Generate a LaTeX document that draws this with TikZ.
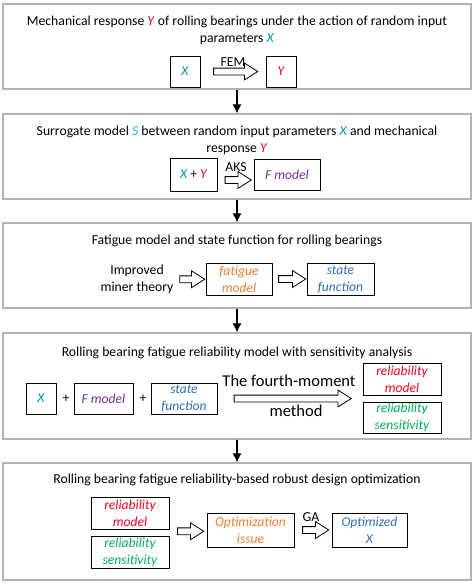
\documentclass[tikz,border=0pt]{standalone}
\usepackage{fontspec}
\setmainfont{Carlito}
\usetikzlibrary{shapes.arrows, arrows.meta, calc}

\definecolor{colX}{RGB}{0,150,150}
\definecolor{colY}{RGB}{240,0,30}
\definecolor{colS}{RGB}{0,190,240}
\definecolor{colF}{RGB}{112,48,160}
\definecolor{colO}{RGB}{237,125,49}
\definecolor{colB}{RGB}{46,110,180}
\definecolor{colR}{RGB}{240,0,30}
\definecolor{colG}{RGB}{0,176,80}

\newcommand{\symX}{\textcolor{colX}{\textit{X}}}
\newcommand{\symY}{\textcolor{colY}{\textit{Y}}}
\newcommand{\symS}{\textcolor{colS}{\textit{S}}}

\tikzset{
  drop/.store in=\arrowdrop, drop=0pt,
  hollow/.style={to path={let \p1=(\tikztostart), \p2=(\tikztotarget), \n1={\x2-\x1-#1} in
    node[fatarrow, minimum height=\n1, yshift=-\arrowdrop] at ($(\p1)!0.5!(\p2)$) {}}},
  hollow/.default=10pt
}

\begin{document}
\begin{tikzpicture}[x=1pt, y=-1pt, font=\fontsize{13.7}{17}\selectfont]
\tikzstyle{stage} = [rectangle, draw=gray!60, line width=1.2pt, minimum width=468pt]
\tikzstyle{item} = [rectangle, draw=black, line width=0.9pt, align=center, inner sep=0pt, font=\fontsize{13.6}{17}\selectfont\itshape]
\tikzstyle{title} = [align=center, inner sep=0pt]
\tikzstyle{big} = [inner sep=0pt, font=\fontsize{16.5}{20}\selectfont]
\tikzstyle{fatarrow} = [single arrow, draw=black, line width=0.8pt, fill=white, inner sep=0pt, inner ysep=3pt, single arrow head extend=5pt, single arrow tip angle=65]
\tikzstyle{arrow} = [draw, line width=1.1pt, -{Latex[length=9pt, width=9pt]}]

\useasboundingbox (0,0) rectangle (474,584);

% stage 1
\node (s1) [stage, minimum height=85pt] at (237,46.5) {};
\node (t1) [title] at (237,30.5) {Mechanical response \symY{} of rolling bearings under the action of random input\\parameters \symX};
\node (x1) [item, minimum width=30pt, minimum height=31pt] at (185,71.5) {\symX};
\node (y1) [item, minimum width=30pt, minimum height=31pt] at (281,71.5) {\symY};
\path (x1.east) to[hollow=21pt] (y1.west);
\node (fem) [title] at (233,62.5) {FEM};

% stage 2
\node (s2) [stage, minimum height=85pt] at (237,156.5) {};
\node (t2) [title] at (237,140) {Surrogate model \symS{} between random input parameters \symX{} and mechanical\\response \symY};
\node (xy2) [item, minimum width=47pt, minimum height=33pt] at (193.5,174.5) {\symX{} \textup{+} \symY};
\node (f2) [item, minimum width=66pt, minimum height=31pt, text=colF] at (287,174.5) {F model};
\path (xy2.east) to[hollow=10pt, drop=5.5pt] (f2.west);
\node (aks) [title] at (236,167.5) {AKS};

% stage 3
\node (s3) [stage, minimum height=85pt] at (237,265.5) {};
\node (t3) [title] at (237,241) {Fatigue model and state function for rolling bearings};
\node (imp3) [title] at (137,279.5) {Improved\\miner theory};
\node (fat3) [item, minimum width=66pt, minimum height=32pt, text=colO] at (239,279) {fatigue\\model};
\node (sf3) [item, minimum width=67pt, minimum height=32pt, text=colB] at (340.5,279) {state\\function};
\path (imp3.east) to[hollow=7pt] (fat3.west);
\path (fat3.east) to[hollow=7pt] (sf3.west);

% stage 4
\node (s4) [stage, minimum height=106pt] at (237,386) {};
\node (t4) [title] at (237,353) {Rolling bearing fatigue reliability model with sensitivity analysis};
\node (x4) [item, minimum width=30pt, minimum height=31pt, text=colX] at (41,398.5) {X};
\node (p4a) [title] at (66,398.5) {+};
\node (f4) [item, minimum width=59pt, minimum height=31pt, text=colF] at (103.5,398.5) {F model};
\node (p4b) [title] at (143,398.5) {+};
\node (sf4) [item, minimum width=66pt, minimum height=31pt, text=colB] at (184,398.5) {state\\function};
\node (m4a) [big] at (289,381) {The fourth-moment};
\node (m4b) [big] at (296,411) {method};
\node (rm4) [item, minimum width=78pt, minimum height=32pt, text=colR] at (402,379) {reliability\\model};
\node (rs4) [item, minimum width=78pt, minimum height=31pt, text=colG] at (402,417.5) {reliability\\sensitivity};
\coordinate (in4) at ($(rm4.south west)!0.5!(rs4.north west)$);
\path (sf4.east) to[hollow=28pt] (in4);

% stage 5
\node (s5) [stage, minimum height=117pt] at (237,521.5) {};
\node (t5) [title] at (237,480) {Rolling bearing fatigue reliability-based robust design optimization};
\node (rm5) [item, minimum width=78pt, minimum height=32pt, text=colR] at (130,513) {reliability\\model};
\node (rs5) [item, minimum width=78pt, minimum height=32pt, text=colG] at (130,552) {reliability\\sensitivity};
\coordinate (out5) at ($(rm5.south east)!0.5!(rs5.north east)$);
\node (opt5) [item, minimum width=87pt, minimum height=34pt, text=colO] at (250.5,530) {Optimization\\issue};
\node (ox5) [item, minimum width=75pt, minimum height=34pt, text=colB] at (369.5,530) {Optimized\\X};
\path (out5) to[hollow=11pt] (opt5.west);
\path (opt5.east) to[hollow=11pt] (ox5.west);
\node (ga) [title] at (311,517) {GA};

\draw [arrow] (s1) -- (s2);
\draw [arrow] (s2) -- (s3);
\draw [arrow] (s3) -- (s4);
\draw [arrow] (s4) -- (s5);

\end{tikzpicture}
\end{document}
